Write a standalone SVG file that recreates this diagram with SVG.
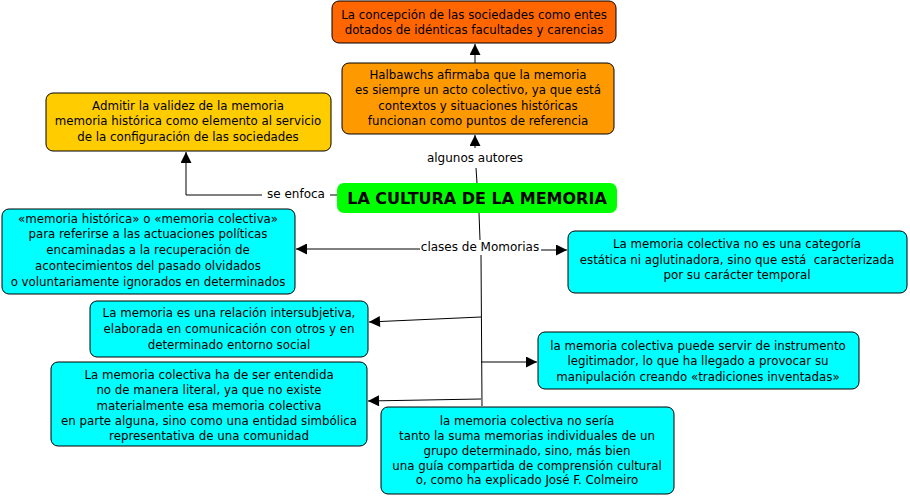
<svg xmlns="http://www.w3.org/2000/svg" width="910" height="497" viewBox="0 0 910 497">
<style>
.n{stroke:#000;stroke-width:1;}
.t{font-family:"DejaVu Sans",Verdana,sans-serif;font-size:11.8px;fill:#000;text-anchor:middle;}
.l{font-family:"DejaVu Sans",Verdana,sans-serif;font-size:12px;fill:#000;text-anchor:middle;}
.c{fill:none;stroke:#000;stroke-width:1;}
</style>
<defs>
<marker id="ar" viewBox="0 0 10 10" refX="10" refY="5" markerWidth="12" markerHeight="11" markerUnits="userSpaceOnUse" orient="auto">
<path d="M0,0 L10,5 L0,10 z" fill="#000"/>
</marker>
</defs>
<rect width="910" height="497" fill="#fff"/>
<g id="connectors">
<path class="c" d="M477,183 L476,168"/>
<path class="c" d="M475,148 L475,135" marker-end="url(#ar)"/>
<path class="c" d="M475,63 L475,44" marker-end="url(#ar)"/>
<path class="c" d="M337,195 L330,195"/>
<path class="c" d="M262,195 L186,195 L186,152" marker-end="url(#ar)"/>
<path class="c" d="M479,213 L480,240"/>
<path class="c" d="M420,249 L296,249" marker-end="url(#ar)"/>
<path class="c" d="M541,250 L567,250" marker-end="url(#ar)"/>
<path class="c" d="M481,255 L482,406"/>
<path class="c" d="M481,317 L369,322" marker-end="url(#ar)"/>
<path class="c" d="M481,362 L537,362" marker-end="url(#ar)"/>
<path class="c" d="M481,399 L368,401" marker-end="url(#ar)"/>
<text class="l" x="475" y="162">algunos autores</text>
<text class="l" x="296" y="198">se enfoca</text>
<text class="l" x="480" y="251">clases de Momorias</text>
</g>
<g id="n1">
<rect class="n" x="332" y="1" width="284" height="42" rx="7" fill="#FF6600"/>
<text class="t" x="474" y="19">La concepción de las sociedades como entes</text>
<text class="t" x="474" y="34">dotados de idénticas facultades y carencias</text>
</g>
<g id="n2">
<rect class="n" x="342" y="63" width="272" height="71" rx="7" fill="#FF9900"/>
<text class="t" x="478" y="79">Halbawchs afirmaba que la memoria</text>
<text class="t" x="478" y="94">es siempre un acto colectivo, ya que está</text>
<text class="t" x="478" y="110">contextos y situaciones históricas</text>
<text class="t" x="478" y="125">funcionan como puntos de referencia</text>
</g>
<g id="n3">
<rect class="n" x="46" y="93" width="285" height="58" rx="7" fill="#FFCC00"/>
<text class="t" x="188" y="110">Admitir la validez de la memoria</text>
<text class="t" x="188" y="125">memoria histórica como elemento al servicio</text>
<text class="t" x="188" y="141">de la configuración de las sociedades</text>
</g>
<g id="center">
<rect x="337" y="183" width="280" height="30" rx="7" fill="#00FF00"/>
<text x="477" y="204" style="font-family:'DejaVu Sans',Verdana,sans-serif;font-size:16px;font-weight:bold;text-anchor:middle;">LA CULTURA DE LA MEMORIA</text>
</g>
<g id="n4">
<rect class="n" x="2" y="209" width="293" height="85" rx="7" fill="#00FFFF"/>
<text class="t" x="148" y="223">«memoria histórica» o «memoria colectiva»</text>
<text class="t" x="148" y="238">para referirse a las actuaciones políticas</text>
<text class="t" x="148" y="254">encaminadas a la recuperación de</text>
<text class="t" x="148" y="270">acontecimientos del pasado olvidados</text>
<text class="t" x="148" y="286">o voluntariamente ignorados en determinados</text>
</g>
<g id="n5">
<rect class="n" x="568" y="231" width="339" height="62" rx="7" fill="#00FFFF"/>
<text class="t" x="737" y="248">La memoria colectiva no es una categoría</text>
<text class="t" x="737" y="264" style="white-space:pre">estática ni aglutinadora, sino que está  caracterizada</text>
<text class="t" x="737" y="279">por su carácter temporal</text>
</g>
<g id="n6">
<rect class="n" x="90" y="301" width="278" height="56" rx="7" fill="#00FFFF"/>
<text class="t" x="229" y="317">La memoria es una relación intersubjetiva,</text>
<text class="t" x="229" y="333">elaborada en comunicación con otros y en</text>
<text class="t" x="229" y="349">determinado entorno social</text>
</g>
<g id="n7">
<rect class="n" x="538" y="332" width="321" height="57" rx="7" fill="#00FFFF"/>
<text class="t" x="698" y="350">la memoria colectiva puede servir de instrumento</text>
<text class="t" x="698" y="365">legitimador, lo que ha llegado a provocar su</text>
<text class="t" x="698" y="381">manipulación creando «tradiciones inventadas»</text>
</g>
<g id="n8">
<rect class="n" x="51" y="362" width="316" height="84" rx="7" fill="#00FFFF"/>
<text class="t" x="209" y="379">La memoria colectiva ha de ser entendida</text>
<text class="t" x="209" y="394">no de manera literal, ya que no existe</text>
<text class="t" x="209" y="410">materialmente esa memoria colectiva</text>
<text class="t" x="209" y="425">en parte alguna, sino como una entidad simbólica</text>
<text class="t" x="209" y="440">representativa de una comunidad</text>
</g>
<g id="n9">
<rect class="n" x="381" y="407" width="293" height="87" rx="7" fill="#00FFFF"/>
<text class="t" x="527" y="425">la memoria colectiva no sería</text>
<text class="t" x="527" y="440">tanto la suma memorias individuales de un</text>
<text class="t" x="527" y="455">grupo determinado, sino, más bien</text>
<text class="t" x="527" y="470">una guía compartida de comprensión cultural</text>
<text class="t" x="527" y="484">o, como ha explicado José F. Colmeiro</text>
</g>
</svg>
